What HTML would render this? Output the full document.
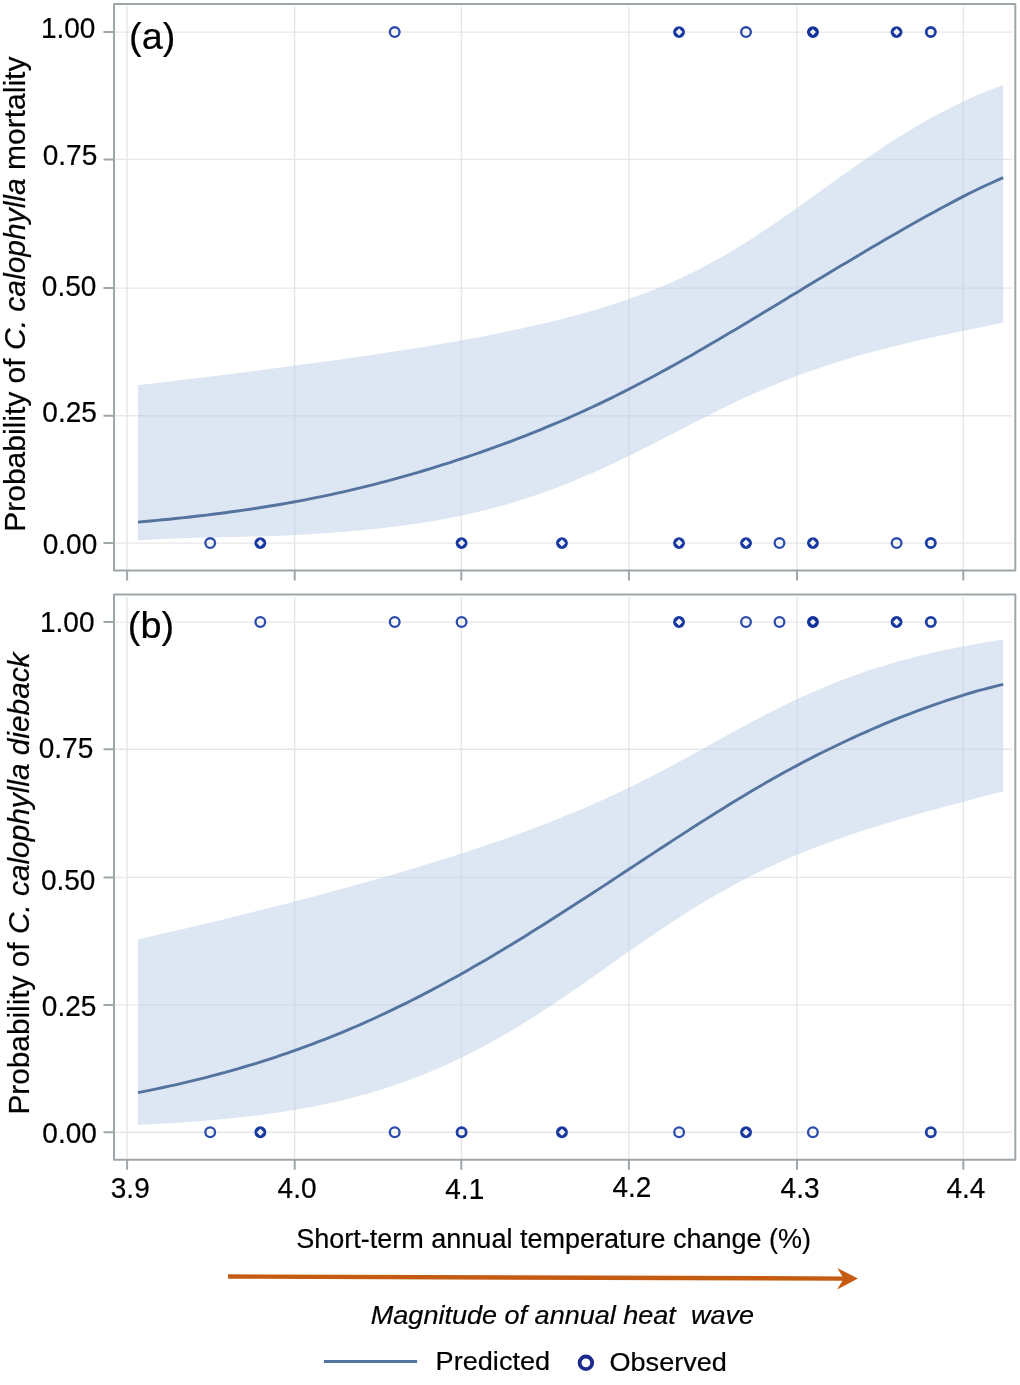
<!DOCTYPE html>
<html><head><meta charset="utf-8"><title>Figure</title>
<style>
html,body{margin:0;padding:0;background:#fff}
svg{display:block}
text{font-family:"Liberation Sans",sans-serif;fill:#000;stroke:#000;stroke-width:.2px}
.tk{font-size:28px}
.pl{font-size:36px}
.yl{font-size:30px}
.xt{font-size:27px}
.mg{font-size:26px;font-style:italic}
.lg{font-size:26.5px}
</style></head><body>
<svg width="1020" height="1385" viewBox="0 0 1020 1385">
<rect width="1020" height="1385" fill="#fff"/>
<path d="M127.1 6.5V570.6M294.7 6.5V570.6M461.3 6.5V570.6M628.9 6.5V570.6M797.0 6.5V570.6M963.3 6.5V570.6M114.0 543.1H1012.3M114.0 415.8H1012.3M114.0 288.1H1012.3M114.0 159.4H1012.3M114.0 32.1H1012.3" stroke="#e7e7e7" stroke-width="1.4" fill="none"/>
<path d="M138.0 385.3 L144.3 384.6 L150.5 383.8 L156.7 383.1 L162.9 382.3 L169.2 381.6 L175.4 380.8 L181.6 380.1 L187.8 379.3 L194.1 378.6 L200.3 377.8 L206.5 377.0 L212.7 376.3 L219.0 375.5 L225.2 374.7 L231.4 373.9 L237.6 373.1 L243.8 372.4 L250.1 371.6 L256.3 370.8 L262.5 369.9 L268.7 369.1 L275.0 368.3 L281.2 367.5 L287.4 366.7 L293.6 365.8 L299.9 365.0 L306.1 364.1 L312.3 363.3 L318.5 362.4 L324.8 361.6 L331.0 360.7 L337.2 359.9 L343.4 359.0 L349.7 358.1 L355.9 357.2 L362.1 356.3 L368.3 355.4 L374.5 354.5 L380.8 353.6 L387.0 352.6 L393.2 351.7 L399.4 350.7 L405.7 349.8 L411.9 348.8 L418.1 347.8 L424.3 346.8 L430.6 345.7 L436.8 344.7 L443.0 343.6 L449.2 342.5 L455.5 341.4 L461.7 340.3 L467.9 339.2 L474.1 338.0 L480.4 336.9 L486.6 335.7 L492.8 334.4 L499.0 333.2 L505.2 331.9 L511.5 330.6 L517.7 329.3 L523.9 328.0 L530.1 326.6 L536.4 325.2 L542.6 323.7 L548.8 322.2 L555.0 320.7 L561.3 319.2 L567.5 317.6 L573.7 315.9 L579.9 314.2 L586.2 312.5 L592.4 310.7 L598.6 308.9 L604.8 307.0 L611.1 305.0 L617.3 303.0 L623.5 300.9 L629.7 298.8 L635.9 296.6 L642.2 294.3 L648.4 291.9 L654.6 289.4 L660.8 286.9 L667.1 284.3 L673.3 281.5 L679.5 278.7 L685.7 275.8 L692.0 272.8 L698.2 269.7 L704.4 266.5 L710.6 263.1 L716.9 259.7 L723.1 256.2 L729.3 252.6 L735.5 248.9 L741.8 245.1 L748.0 241.2 L754.2 237.2 L760.4 233.1 L766.6 229.0 L772.9 224.7 L779.1 220.5 L785.3 216.1 L791.5 211.8 L797.8 207.4 L804.0 202.9 L810.2 198.5 L816.4 194.0 L822.7 189.5 L828.9 185.0 L835.1 180.6 L841.3 176.1 L847.6 171.7 L853.8 167.3 L860.0 163.0 L866.2 158.7 L872.5 154.4 L878.7 150.3 L884.9 146.1 L891.1 142.1 L897.3 138.1 L903.6 134.2 L909.8 130.4 L916.0 126.7 L922.2 123.1 L928.5 119.6 L934.7 116.1 L940.9 112.8 L947.1 109.5 L953.4 106.4 L959.6 103.3 L965.8 100.3 L972.0 97.5 L978.3 94.8 L984.5 92.2 L990.7 89.7 L996.9 87.3 L1003.2 85.0 L1003.2 322.8 L996.9 324.0 L990.7 325.3 L984.5 326.6 L978.3 327.8 L972.0 329.1 L965.8 330.4 L959.6 331.6 L953.4 332.9 L947.1 334.2 L940.9 335.5 L934.7 336.9 L928.5 338.2 L922.2 339.6 L916.0 341.0 L909.8 342.5 L903.6 344.0 L897.3 345.5 L891.1 347.0 L884.9 348.6 L878.7 350.2 L872.5 351.9 L866.2 353.6 L860.0 355.3 L853.8 357.1 L847.6 358.9 L841.3 360.8 L835.1 362.8 L828.9 364.7 L822.7 366.8 L816.4 368.9 L810.2 371.1 L804.0 373.3 L797.8 375.6 L791.5 377.9 L785.3 380.4 L779.1 382.8 L772.9 385.4 L766.6 388.0 L760.4 390.7 L754.2 393.4 L748.0 396.3 L741.8 399.1 L735.5 402.0 L729.3 405.0 L723.1 408.1 L716.9 411.1 L710.6 414.2 L704.4 417.4 L698.2 420.6 L692.0 423.7 L685.7 427.0 L679.5 430.2 L673.3 433.4 L667.1 436.6 L660.8 439.8 L654.6 443.0 L648.4 446.2 L642.2 449.3 L635.9 452.4 L629.7 455.5 L623.5 458.5 L617.3 461.5 L611.1 464.5 L604.8 467.3 L598.6 470.2 L592.4 472.9 L586.2 475.6 L579.9 478.3 L573.7 480.9 L567.5 483.4 L561.3 485.8 L555.0 488.2 L548.8 490.5 L542.6 492.7 L536.4 494.9 L530.1 497.0 L523.9 499.0 L517.7 501.0 L511.5 502.9 L505.2 504.7 L499.0 506.4 L492.8 508.1 L486.6 509.7 L480.4 511.2 L474.1 512.7 L467.9 514.2 L461.7 515.5 L455.5 516.8 L449.2 518.0 L443.0 519.2 L436.8 520.4 L430.6 521.4 L424.3 522.4 L418.1 523.4 L411.9 524.3 L405.7 525.2 L399.4 526.1 L393.2 526.8 L387.0 527.6 L380.8 528.3 L374.5 529.0 L368.3 529.6 L362.1 530.2 L355.9 530.8 L349.7 531.3 L343.4 531.9 L337.2 532.3 L331.0 532.8 L324.8 533.2 L318.5 533.6 L312.3 534.0 L306.1 534.4 L299.9 534.7 L293.6 535.1 L287.4 535.4 L281.2 535.6 L275.0 535.9 L268.7 536.1 L262.5 536.3 L256.3 536.5 L250.1 536.6 L243.8 536.8 L237.6 536.9 L231.4 537.0 L225.2 537.1 L219.0 537.3 L212.7 537.4 L206.5 537.5 L200.3 537.7 L194.1 537.8 L187.8 538.0 L181.6 538.2 L175.4 538.4 L169.2 538.7 L162.9 539.0 L156.7 539.3 L150.5 539.7 L144.3 540.0 L138.0 540.4Z" fill="#b9cfe7" fill-opacity="0.5"/>
<path d="M138.0 522.1 L144.3 521.5 L150.5 521.0 L156.7 520.4 L162.9 519.8 L169.2 519.2 L175.4 518.5 L181.6 517.9 L187.8 517.2 L194.1 516.5 L200.3 515.8 L206.5 515.1 L212.7 514.3 L219.0 513.5 L225.2 512.7 L231.4 511.8 L237.6 511.0 L243.8 510.1 L250.1 509.2 L256.3 508.2 L262.5 507.3 L268.7 506.3 L275.0 505.2 L281.2 504.2 L287.4 503.1 L293.6 502.0 L299.9 500.8 L306.1 499.7 L312.3 498.4 L318.5 497.2 L324.8 495.9 L331.0 494.6 L337.2 493.2 L343.4 491.8 L349.7 490.4 L355.9 488.9 L362.1 487.4 L368.3 485.9 L374.5 484.3 L380.8 482.7 L387.0 481.1 L393.2 479.4 L399.4 477.7 L405.7 475.9 L411.9 474.2 L418.1 472.3 L424.3 470.5 L430.6 468.6 L436.8 466.7 L443.0 464.7 L449.2 462.8 L455.5 460.7 L461.7 458.7 L467.9 456.6 L474.1 454.5 L480.4 452.3 L486.6 450.2 L492.8 447.9 L499.0 445.7 L505.2 443.4 L511.5 441.1 L517.7 438.7 L523.9 436.3 L530.1 433.8 L536.4 431.3 L542.6 428.8 L548.8 426.2 L555.0 423.6 L561.3 421.0 L567.5 418.3 L573.7 415.5 L579.9 412.7 L586.2 409.9 L592.4 407.0 L598.6 404.1 L604.8 401.1 L611.1 398.1 L617.3 395.0 L623.5 391.9 L629.7 388.7 L635.9 385.5 L642.2 382.3 L648.4 379.0 L654.6 375.7 L660.8 372.3 L667.1 368.9 L673.3 365.4 L679.5 362.0 L685.7 358.4 L692.0 354.9 L698.2 351.3 L704.4 347.7 L710.6 344.1 L716.9 340.5 L723.1 336.8 L729.3 333.1 L735.5 329.4 L741.8 325.7 L748.0 321.9 L754.2 318.2 L760.4 314.5 L766.6 310.7 L772.9 306.9 L779.1 303.2 L785.3 299.4 L791.5 295.6 L797.8 291.9 L804.0 288.1 L810.2 284.3 L816.4 280.6 L822.7 276.8 L828.9 273.1 L835.1 269.3 L841.3 265.6 L847.6 261.9 L853.8 258.2 L860.0 254.5 L866.2 250.8 L872.5 247.1 L878.7 243.5 L884.9 239.8 L891.1 236.2 L897.3 232.7 L903.6 229.1 L909.8 225.6 L916.0 222.1 L922.2 218.6 L928.5 215.1 L934.7 211.7 L940.9 208.3 L947.1 205.0 L953.4 201.6 L959.6 198.4 L965.8 195.1 L972.0 192.0 L978.3 189.0 L984.5 186.0 L990.7 183.2 L996.9 180.4 L1003.2 177.6" fill="none" stroke="#55739f" stroke-width="2.9" stroke-linejoin="round"/>
<rect x="114.0" y="4.0" width="901.3" height="566.6" fill="none" stroke="#9fa6aa" stroke-width="2" stroke-linejoin="round"/>
<path d="M103.5 543.1H114.0M103.5 415.8H114.0M103.5 288.1H114.0M103.5 159.4H114.0M103.5 32.1H114.0M127.1 570.6v10M294.7 570.6v10M461.3 570.6v10M628.9 570.6v10M797.0 570.6v10M963.3 570.6v10" stroke="#9fa6aa" stroke-width="2" fill="none"/>
<circle cx="394.7" cy="32.1" r="4.85" fill="none" stroke="#2a4cad" stroke-width="2.3"/>
<path fill-rule="evenodd" fill="#17389e" d="M673.1 32.1a5.95 5.95 0 1 0 11.9 0a5.95 5.95 0 1 0 -11.9 0ZM679.1 28.6l3.5 3.5l-3.5 3.5l-3.5 -3.5Z"/>
<circle cx="746.0" cy="32.1" r="4.85" fill="none" stroke="#2a4cad" stroke-width="2.3"/>
<path fill-rule="evenodd" fill="#10309a" d="M807.0 32.1a5.95 5.95 0 1 0 11.9 0a5.95 5.95 0 1 0 -11.9 0ZM812.9 29.0l3.1 3.1l-3.1 3.1l-3.1 -3.1Z"/>
<path fill-rule="evenodd" fill="#17389e" d="M890.6 32.1a5.95 5.95 0 1 0 11.9 0a5.95 5.95 0 1 0 -11.9 0ZM896.6 28.6l3.5 3.5l-3.5 3.5l-3.5 -3.5Z"/>
<circle cx="930.8" cy="32.1" r="4.6" fill="none" stroke="#1d3fa3" stroke-width="2.8"/>
<circle cx="210.2" cy="543.1" r="4.85" fill="none" stroke="#2a4cad" stroke-width="2.3"/>
<path fill-rule="evenodd" fill="#17389e" d="M254.4 543.1a5.95 5.95 0 1 0 11.9 0a5.95 5.95 0 1 0 -11.9 0ZM260.3 539.6l3.5 3.5l-3.5 3.5l-3.5 -3.5Z"/>
<path fill-rule="evenodd" fill="#17389e" d="M455.6 543.1a5.95 5.95 0 1 0 11.9 0a5.95 5.95 0 1 0 -11.9 0ZM461.6 539.6l3.5 3.5l-3.5 3.5l-3.5 -3.5Z"/>
<path fill-rule="evenodd" fill="#17389e" d="M556.0 543.1a5.95 5.95 0 1 0 11.9 0a5.95 5.95 0 1 0 -11.9 0ZM562.0 539.6l3.5 3.5l-3.5 3.5l-3.5 -3.5Z"/>
<path fill-rule="evenodd" fill="#17389e" d="M673.1 543.1a5.95 5.95 0 1 0 11.9 0a5.95 5.95 0 1 0 -11.9 0ZM679.1 539.6l3.5 3.5l-3.5 3.5l-3.5 -3.5Z"/>
<path fill-rule="evenodd" fill="#17389e" d="M740.1 543.1a5.95 5.95 0 1 0 11.9 0a5.95 5.95 0 1 0 -11.9 0ZM746.0 539.6l3.5 3.5l-3.5 3.5l-3.5 -3.5Z"/>
<circle cx="779.5" cy="543.1" r="4.85" fill="none" stroke="#2a4cad" stroke-width="2.3"/>
<path fill-rule="evenodd" fill="#17389e" d="M807.0 543.1a5.95 5.95 0 1 0 11.9 0a5.95 5.95 0 1 0 -11.9 0ZM812.9 539.6l3.5 3.5l-3.5 3.5l-3.5 -3.5Z"/>
<circle cx="896.6" cy="543.1" r="4.85" fill="none" stroke="#2a4cad" stroke-width="2.3"/>
<circle cx="930.8" cy="543.1" r="4.6" fill="none" stroke="#1d3fa3" stroke-width="2.8"/>
<text class="tk" transform="translate(97.2 553.9) scale(1 1.05)" text-anchor="end">0.00</text>
<text class="tk" transform="translate(96.8 422.4) scale(1 1.05)" text-anchor="end">0.25</text>
<text class="tk" transform="translate(96.3 295.8) scale(1 1.05)" text-anchor="end">0.50</text>
<text class="tk" transform="translate(97.2 165.4) scale(1 1.05)" text-anchor="end">0.75</text>
<text class="tk" transform="translate(95.4 38.4) scale(1 1.05)" text-anchor="end">1.00</text>
<path d="M127.1 596.9V1159.8M294.7 596.9V1159.8M461.3 596.9V1159.8M628.9 596.9V1159.8M797.0 596.9V1159.8M963.3 596.9V1159.8M114.0 1132.3H1012.3M114.0 1004.9H1012.3M114.0 877.4H1012.3M114.0 749.2H1012.3M114.0 622.1H1012.3" stroke="#e7e7e7" stroke-width="1.4" fill="none"/>
<path d="M138.0 939.3 L144.3 937.9 L150.5 936.5 L156.7 935.1 L162.9 933.6 L169.2 932.2 L175.4 930.8 L181.6 929.3 L187.8 927.9 L194.1 926.4 L200.3 924.9 L206.5 923.4 L212.7 922.0 L219.0 920.5 L225.2 919.0 L231.4 917.4 L237.6 915.9 L243.8 914.4 L250.1 912.8 L256.3 911.3 L262.5 909.7 L268.7 908.2 L275.0 906.6 L281.2 905.0 L287.4 903.4 L293.6 901.8 L299.9 900.1 L306.1 898.5 L312.3 896.9 L318.5 895.2 L324.8 893.5 L331.0 891.8 L337.2 890.2 L343.4 888.5 L349.7 886.7 L355.9 885.0 L362.1 883.3 L368.3 881.5 L374.5 879.8 L380.8 878.0 L387.0 876.2 L393.2 874.4 L399.4 872.6 L405.7 870.7 L411.9 868.9 L418.1 867.0 L424.3 865.1 L430.6 863.2 L436.8 861.3 L443.0 859.3 L449.2 857.4 L455.5 855.4 L461.7 853.4 L467.9 851.4 L474.1 849.3 L480.4 847.2 L486.6 845.1 L492.8 843.0 L499.0 840.9 L505.2 838.7 L511.5 836.5 L517.7 834.2 L523.9 832.0 L530.1 829.7 L536.4 827.3 L542.6 825.0 L548.8 822.5 L555.0 820.1 L561.3 817.6 L567.5 815.1 L573.7 812.5 L579.9 809.9 L586.2 807.2 L592.4 804.5 L598.6 801.7 L604.8 798.9 L611.1 796.1 L617.3 793.2 L623.5 790.3 L629.7 787.3 L635.9 784.2 L642.2 781.1 L648.4 778.0 L654.6 774.8 L660.8 771.5 L667.1 768.3 L673.3 764.9 L679.5 761.6 L685.7 758.2 L692.0 754.8 L698.2 751.3 L704.4 747.9 L710.6 744.5 L716.9 741.0 L723.1 737.6 L729.3 734.1 L735.5 730.7 L741.8 727.3 L748.0 724.0 L754.2 720.6 L760.4 717.4 L766.6 714.1 L772.9 710.9 L779.1 707.8 L785.3 704.7 L791.5 701.7 L797.8 698.8 L804.0 695.9 L810.2 693.2 L816.4 690.4 L822.7 687.8 L828.9 685.2 L835.1 682.7 L841.3 680.3 L847.6 677.9 L853.8 675.7 L860.0 673.5 L866.2 671.3 L872.5 669.3 L878.7 667.3 L884.9 665.4 L891.1 663.5 L897.3 661.7 L903.6 660.0 L909.8 658.4 L916.0 656.8 L922.2 655.2 L928.5 653.8 L934.7 652.3 L940.9 651.0 L947.1 649.6 L953.4 648.4 L959.6 647.1 L965.8 646.0 L972.0 644.8 L978.3 643.7 L984.5 642.6 L990.7 641.5 L996.9 640.5 L1003.2 639.5 L1003.2 791.2 L996.9 792.9 L990.7 794.5 L984.5 796.1 L978.3 797.8 L972.0 799.4 L965.8 801.1 L959.6 802.7 L953.4 804.4 L947.1 806.0 L940.9 807.7 L934.7 809.4 L928.5 811.1 L922.2 812.8 L916.0 814.6 L909.8 816.4 L903.6 818.2 L897.3 820.0 L891.1 821.9 L884.9 823.7 L878.7 825.7 L872.5 827.6 L866.2 829.6 L860.0 831.6 L853.8 833.7 L847.6 835.8 L841.3 837.9 L835.1 840.1 L828.9 842.4 L822.7 844.7 L816.4 847.1 L810.2 849.5 L804.0 852.0 L797.8 854.5 L791.5 857.1 L785.3 859.8 L779.1 862.6 L772.9 865.4 L766.6 868.3 L760.4 871.3 L754.2 874.3 L748.0 877.5 L741.8 880.7 L735.5 884.0 L729.3 887.4 L723.1 890.9 L716.9 894.4 L710.6 898.0 L704.4 901.7 L698.2 905.5 L692.0 909.3 L685.7 913.2 L679.5 917.2 L673.3 921.3 L667.1 925.4 L660.8 929.5 L654.6 933.7 L648.4 938.0 L642.2 942.3 L635.9 946.6 L629.7 951.0 L623.5 955.3 L617.3 959.7 L611.1 964.1 L604.8 968.5 L598.6 972.9 L592.4 977.3 L586.2 981.6 L579.9 986.0 L573.7 990.3 L567.5 994.5 L561.3 998.8 L555.0 1002.9 L548.8 1007.1 L542.6 1011.1 L536.4 1015.2 L530.1 1019.1 L523.9 1023.0 L517.7 1026.8 L511.5 1030.5 L505.2 1034.2 L499.0 1037.8 L492.8 1041.3 L486.6 1044.7 L480.4 1048.0 L474.1 1051.3 L467.9 1054.4 L461.7 1057.5 L455.5 1060.5 L449.2 1063.4 L443.0 1066.3 L436.8 1069.0 L430.6 1071.6 L424.3 1074.2 L418.1 1076.6 L411.9 1079.0 L405.7 1081.3 L399.4 1083.5 L393.2 1085.6 L387.0 1087.7 L380.8 1089.7 L374.5 1091.5 L368.3 1093.4 L362.1 1095.1 L355.9 1096.8 L349.7 1098.4 L343.4 1099.9 L337.2 1101.4 L331.0 1102.8 L324.8 1104.1 L318.5 1105.4 L312.3 1106.7 L306.1 1107.8 L299.9 1109.0 L293.6 1110.0 L287.4 1111.0 L281.2 1112.0 L275.0 1112.9 L268.7 1113.8 L262.5 1114.7 L256.3 1115.5 L250.1 1116.2 L243.8 1117.0 L237.6 1117.6 L231.4 1118.3 L225.2 1118.9 L219.0 1119.5 L212.7 1120.1 L206.5 1120.6 L200.3 1121.1 L194.1 1121.6 L187.8 1122.0 L181.6 1122.5 L175.4 1122.9 L169.2 1123.2 L162.9 1123.6 L156.7 1123.9 L150.5 1124.3 L144.3 1124.6 L138.0 1124.9Z" fill="#b9cfe7" fill-opacity="0.5"/>
<path d="M138.0 1092.6 L144.3 1091.4 L150.5 1090.1 L156.7 1088.9 L162.9 1087.5 L169.2 1086.2 L175.4 1084.8 L181.6 1083.4 L187.8 1081.9 L194.1 1080.4 L200.3 1078.9 L206.5 1077.3 L212.7 1075.7 L219.0 1074.0 L225.2 1072.4 L231.4 1070.6 L237.6 1068.8 L243.8 1067.0 L250.1 1065.2 L256.3 1063.3 L262.5 1061.3 L268.7 1059.3 L275.0 1057.3 L281.2 1055.2 L287.4 1053.1 L293.6 1050.9 L299.9 1048.7 L306.1 1046.4 L312.3 1044.1 L318.5 1041.7 L324.8 1039.3 L331.0 1036.8 L337.2 1034.3 L343.4 1031.8 L349.7 1029.1 L355.9 1026.5 L362.1 1023.8 L368.3 1021.0 L374.5 1018.2 L380.8 1015.3 L387.0 1012.4 L393.2 1009.4 L399.4 1006.4 L405.7 1003.4 L411.9 1000.3 L418.1 997.1 L424.3 993.9 L430.6 990.6 L436.8 987.3 L443.0 984.0 L449.2 980.6 L455.5 977.2 L461.7 973.7 L467.9 970.2 L474.1 966.6 L480.4 963.0 L486.6 959.4 L492.8 955.7 L499.0 952.0 L505.2 948.3 L511.5 944.5 L517.7 940.7 L523.9 936.9 L530.1 933.0 L536.4 929.1 L542.6 925.2 L548.8 921.3 L555.0 917.3 L561.3 913.3 L567.5 909.3 L573.7 905.3 L579.9 901.3 L586.2 897.3 L592.4 893.2 L598.6 889.1 L604.8 885.1 L611.1 881.0 L617.3 876.9 L623.5 872.8 L629.7 868.7 L635.9 864.6 L642.2 860.5 L648.4 856.4 L654.6 852.4 L660.8 848.3 L667.1 844.2 L673.3 840.1 L679.5 836.1 L685.7 832.1 L692.0 828.0 L698.2 824.1 L704.4 820.1 L710.6 816.2 L716.9 812.2 L723.1 808.4 L729.3 804.5 L735.5 800.7 L741.8 797.0 L748.0 793.2 L754.2 789.6 L760.4 785.9 L766.6 782.3 L772.9 778.8 L779.1 775.3 L785.3 771.8 L791.5 768.5 L797.8 765.1 L804.0 761.8 L810.2 758.6 L816.4 755.4 L822.7 752.3 L828.9 749.2 L835.1 746.2 L841.3 743.2 L847.6 740.2 L853.8 737.4 L860.0 734.5 L866.2 731.8 L872.5 729.0 L878.7 726.4 L884.9 723.7 L891.1 721.2 L897.3 718.6 L903.6 716.2 L909.8 713.8 L916.0 711.4 L922.2 709.1 L928.5 706.8 L934.7 704.6 L940.9 702.5 L947.1 700.3 L953.4 698.3 L959.6 696.3 L965.8 694.3 L972.0 692.5 L978.3 690.7 L984.5 689.1 L990.7 687.5 L996.9 685.9 L1003.2 684.4" fill="none" stroke="#55739f" stroke-width="2.9" stroke-linejoin="round"/>
<rect x="114.0" y="594.4" width="901.3" height="565.4" fill="none" stroke="#9fa6aa" stroke-width="2" stroke-linejoin="round"/>
<path d="M103.5 1132.3H114.0M103.5 1004.9H114.0M103.5 877.4H114.0M103.5 749.2H114.0M103.5 622.1H114.0M127.1 1159.8v10M294.7 1159.8v10M461.3 1159.8v10M628.9 1159.8v10M797.0 1159.8v10M963.3 1159.8v10" stroke="#9fa6aa" stroke-width="2" fill="none"/>
<circle cx="260.3" cy="622.0" r="4.85" fill="none" stroke="#2a4cad" stroke-width="2.3"/>
<circle cx="394.7" cy="622.0" r="4.85" fill="none" stroke="#2a4cad" stroke-width="2.3"/>
<circle cx="461.6" cy="622.0" r="4.85" fill="none" stroke="#2a4cad" stroke-width="2.3"/>
<path fill-rule="evenodd" fill="#17389e" d="M673.1 622.0a5.95 5.95 0 1 0 11.9 0a5.95 5.95 0 1 0 -11.9 0ZM679.1 618.5l3.5 3.5l-3.5 3.5l-3.5 -3.5Z"/>
<circle cx="746.0" cy="622.0" r="4.85" fill="none" stroke="#2a4cad" stroke-width="2.3"/>
<circle cx="779.5" cy="622.0" r="4.85" fill="none" stroke="#2a4cad" stroke-width="2.3"/>
<path fill-rule="evenodd" fill="#10309a" d="M807.0 622.0a5.95 5.95 0 1 0 11.9 0a5.95 5.95 0 1 0 -11.9 0ZM812.9 618.9l3.1 3.1l-3.1 3.1l-3.1 -3.1Z"/>
<path fill-rule="evenodd" fill="#17389e" d="M890.6 622.0a5.95 5.95 0 1 0 11.9 0a5.95 5.95 0 1 0 -11.9 0ZM896.6 618.5l3.5 3.5l-3.5 3.5l-3.5 -3.5Z"/>
<circle cx="930.8" cy="622.0" r="4.6" fill="none" stroke="#1d3fa3" stroke-width="2.8"/>
<circle cx="210.2" cy="1132.3" r="4.85" fill="none" stroke="#2a4cad" stroke-width="2.3"/>
<path fill-rule="evenodd" fill="#17389e" d="M254.4 1132.3a5.95 5.95 0 1 0 11.9 0a5.95 5.95 0 1 0 -11.9 0ZM260.3 1128.8l3.5 3.5l-3.5 3.5l-3.5 -3.5Z"/>
<circle cx="394.7" cy="1132.3" r="4.85" fill="none" stroke="#2a4cad" stroke-width="2.3"/>
<circle cx="461.6" cy="1132.3" r="4.6" fill="none" stroke="#1d3fa3" stroke-width="2.8"/>
<path fill-rule="evenodd" fill="#17389e" d="M556.0 1132.3a5.95 5.95 0 1 0 11.9 0a5.95 5.95 0 1 0 -11.9 0ZM562.0 1128.8l3.5 3.5l-3.5 3.5l-3.5 -3.5Z"/>
<circle cx="679.1" cy="1132.3" r="4.85" fill="none" stroke="#2a4cad" stroke-width="2.3"/>
<path fill-rule="evenodd" fill="#17389e" d="M740.1 1132.3a5.95 5.95 0 1 0 11.9 0a5.95 5.95 0 1 0 -11.9 0ZM746.0 1128.8l3.5 3.5l-3.5 3.5l-3.5 -3.5Z"/>
<circle cx="812.9" cy="1132.3" r="4.85" fill="none" stroke="#2a4cad" stroke-width="2.3"/>
<circle cx="930.8" cy="1132.3" r="4.6" fill="none" stroke="#1d3fa3" stroke-width="2.8"/>
<text class="tk" transform="translate(96.8 1142.7) scale(1 1.05)" text-anchor="end">0.00</text>
<text class="tk" transform="translate(96.3 1016.3) scale(1 1.05)" text-anchor="end">0.25</text>
<text class="tk" transform="translate(95.4 889.8) scale(1 1.05)" text-anchor="end">0.50</text>
<text class="tk" transform="translate(93.2 758.1) scale(1 1.05)" text-anchor="end">0.75</text>
<text class="tk" transform="translate(94.5 632.3) scale(1 1.05)" text-anchor="end">1.00</text>
<text class="tk" transform="translate(110.8 1197.8) scale(1 1.05)">3.9</text>
<text class="tk" transform="translate(277.6 1197.6) scale(1 1.05)">4.0</text>
<text class="tk" transform="translate(445.3 1198.9) scale(1 1.05)">4.1</text>
<text class="tk" transform="translate(612.4 1197.4) scale(1 1.05)">4.2</text>
<text class="tk" transform="translate(780.6 1197.8) scale(1 1.05)">4.3</text>
<text class="tk" transform="translate(946.5 1197.8) scale(1 1.05)">4.4</text>
<text class="pl" transform="translate(129.1 48.6) scale(1.05 1)">(a)</text>
<text class="pl" transform="translate(127.8 638.3) scale(1.05 1)">(b)</text>
<text class="yl" transform="translate(25.2 531.8) rotate(-90)">Probability of <tspan font-style="italic">C. calophylla</tspan> mortality</text>
<text class="yl" style="font-size:29.8px" transform="translate(29.1 1114.6) rotate(-90)">Probability of <tspan font-style="italic">C. calophylla dieback</tspan></text>
<text class="xt" x="296.3" y="1247.9">Short-term annual temperature change (%)</text>
<g fill="#c55a11" stroke="none"><path d="M228.1 1274.3 L846 1276.4 L846 1280.8 L228.1 1278.7Z"/><path d="M857.9 1278.6 L837.2 1267.9 L843.7 1278.6 L837.2 1289.4Z"/></g>
<text class="mg" transform="translate(370.8 1324.2) scale(1.04 1)" xml:space="preserve">Magnitude of annual heat  wave</text>
<path d="M323.9 1361.4H417.1" stroke="#55739f" stroke-width="3"/>
<text class="lg" transform="translate(435.6 1369.9) scale(1.024 1)">Predicted</text>
<circle cx="585.9" cy="1362.8" r="6.3" fill="none" stroke="#1b2a8c" stroke-width="3.8"/>
<text class="lg" transform="translate(609.5 1370.9) scale(1.022 1)">Observed</text>
</svg>
</body></html>
